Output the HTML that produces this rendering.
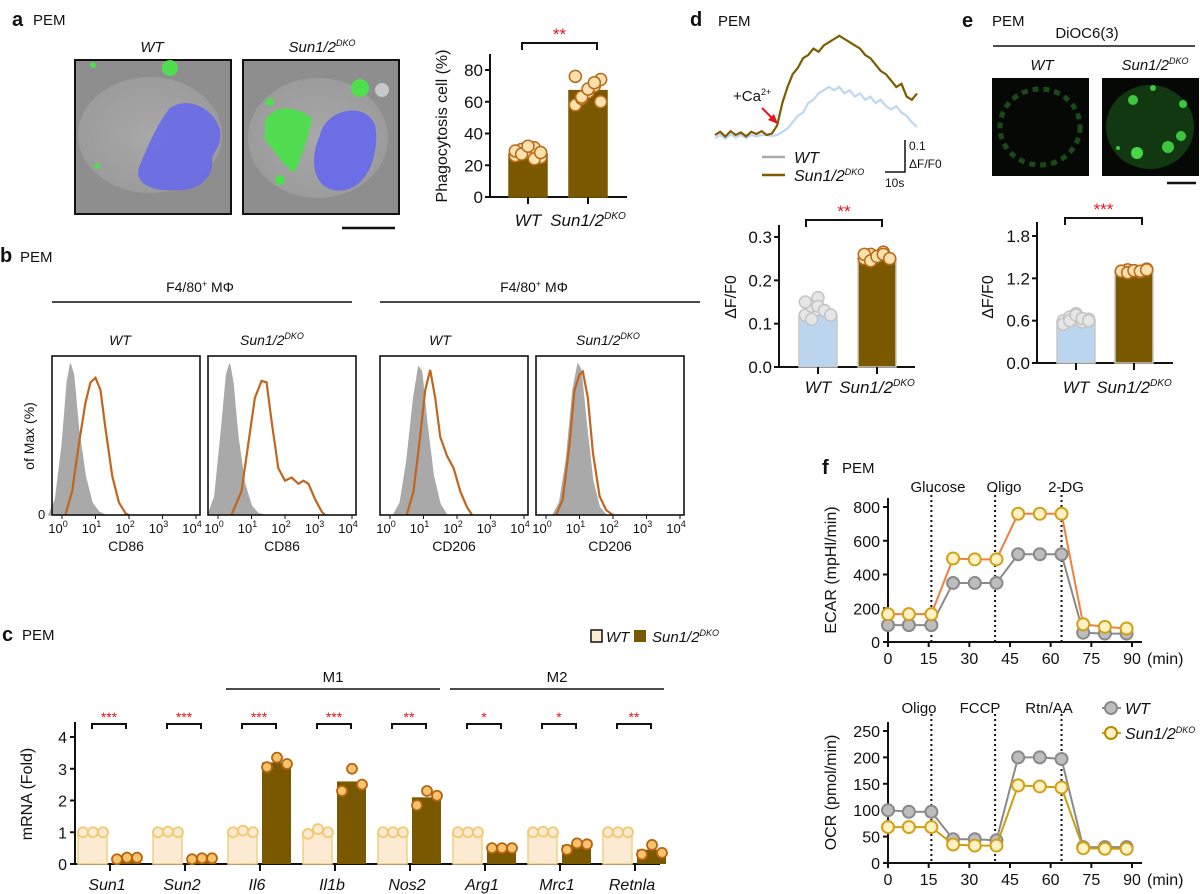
<!DOCTYPE html>
<html><head><meta charset="utf-8"><style>
html,body{margin:0;padding:0;background:#fff;}
svg{display:block;font-family:"Liberation Sans",sans-serif;}
text{fill:#111;}
.it{font-style:italic;}
</style></head><body>
<svg id="fig" width="1200" height="894" viewBox="0 0 1200 894" xmlns="http://www.w3.org/2000/svg">
<defs>
<radialGradient id="cellg" cx="0.5" cy="0.5" r="0.5"><stop offset="0" stop-color="#a8a8a8"/><stop offset="1" stop-color="#9c9c9c"/></radialGradient>
</defs>
<g font-size="15">
<text x="12" y="26" font-weight="bold" font-size="20">a</text><text x="33" y="25">PEM</text>
<text x="0" y="262" font-weight="bold" font-size="20">b</text><text x="20" y="262">PEM</text>
<text x="2" y="641" font-weight="bold" font-size="20">c</text><text x="22" y="640">PEM</text>
<text x="690" y="26" font-weight="bold" font-size="20">d</text><text x="718" y="26">PEM</text>
<text x="962" y="27" font-weight="bold" font-size="20">e</text><text x="992" y="26">PEM</text>
<text x="822" y="474" font-weight="bold" font-size="20">f</text><text x="842" y="473">PEM</text>
</g>
<g>
<text x="152" y="52" text-anchor="middle" class="it" font-size="15">WT</text>
<rect x="75" y="60" width="156" height="154" fill="#8e8e8e" stroke="#111" stroke-width="2"/>
<ellipse cx="150" cy="135" rx="72" ry="58" fill="url(#cellg)"/>
<path d="M140 165 C150 140 160 120 170 108 C190 95 215 110 220 130 C222 145 215 150 212 158 C215 175 200 192 175 190 C150 192 132 182 140 165Z" fill="#6c6ee6" opacity="0.95"/>
<circle cx="170" cy="68" r="8" fill="#4ede4e"/><circle cx="93" cy="65" r="3" fill="#4ede4e"/><circle cx="97" cy="166" r="3" fill="#4ede4e"/>
</g>
<g>
<text x="322" y="52" text-anchor="middle" class="it" font-size="15">Sun1/2<tspan font-size="9" dy="-6">DKO</tspan></text>
<rect x="243" y="60" width="156" height="154" fill="#8e8e8e" stroke="#111" stroke-width="2"/>
<ellipse cx="318" cy="138" rx="70" ry="60" fill="url(#cellg)"/>
<path d="M265 120 C280 100 300 110 312 118 C308 140 300 160 295 172 C285 170 275 150 265 140Z" fill="#52dc52"/>
<path d="M320 135 C325 110 365 100 375 125 C380 150 370 185 345 190 C320 195 305 170 320 135Z" fill="#6c6ee6"/>
<circle cx="360" cy="88" r="9" fill="#4ede4e"/><circle cx="382" cy="90" r="7" fill="#c8c8c8"/><circle cx="270" cy="102" r="4" fill="#4ede4e"/><circle cx="280" cy="180" r="5" fill="#4ede4e"/>
<line x1="342" y1="228" x2="395" y2="228" stroke="#111" stroke-width="2.5"/>
</g>
<g font-size="14">
<text x="200" y="292" text-anchor="middle">F4/80<tspan font-size="9" dy="-5">+</tspan><tspan dy="5"> MΦ</tspan></text>
<line x1="52" y1="302" x2="352" y2="302" stroke="#111" stroke-width="1.5"/>
<text x="534" y="292" text-anchor="middle">F4/80<tspan font-size="9" dy="-5">+</tspan><tspan dy="5"> MΦ</tspan></text>
<line x1="380" y1="302" x2="700" y2="302" stroke="#111" stroke-width="1.5"/>
<text x="120" y="345" text-anchor="middle" class="it">WT</text>
<text x="272" y="345" text-anchor="middle" class="it">Sun1/2<tspan font-size="9" dy="-6">DKO</tspan></text>
<text x="440" y="345" text-anchor="middle" class="it">WT</text>
<text x="608" y="345" text-anchor="middle" class="it">Sun1/2<tspan font-size="9" dy="-6">DKO</tspan></text>
<text transform="translate(34,436) rotate(-90)" text-anchor="middle">of Max (%)</text>
<text x="38" y="519" font-size="13">0</text>
</g>
<g id="flow"></g>
<g id="chartA"></g>
<g id="chartC"></g>
<g id="traceD"></g>
<g id="chartD"></g>
<g>
<text x="1087" y="38" text-anchor="middle" font-size="15">DiOC6(3)</text>
<line x1="993" y1="46" x2="1195" y2="46" stroke="#111" stroke-width="1.5"/>
<text x="1042" y="70" text-anchor="middle" class="it" font-size="15">WT</text>
<text x="1155" y="70" text-anchor="middle" class="it" font-size="15">Sun1/2<tspan font-size="9" dy="-6">DKO</tspan></text>
<rect x="992" y="78" width="97" height="98" fill="#050805"/>
<ellipse cx="1040" cy="127" rx="40" ry="38" fill="none" stroke="#1a4a1a" stroke-width="5" stroke-dasharray="6 5"/>
<rect x="1102" y="78" width="97" height="98" fill="#050805"/>
<ellipse cx="1150" cy="127" rx="44" ry="42" fill="#123812"/>
<circle cx="1133" cy="100" r="5" fill="#3ec63e"/><circle cx="1168" cy="147" r="6" fill="#3ec63e"/><circle cx="1137" cy="153" r="6" fill="#46d646"/><circle cx="1181" cy="136" r="5" fill="#3ec63e"/><circle cx="1183" cy="104" r="4" fill="#3ec63e"/><circle cx="1153" cy="88" r="3" fill="#3ec63e"/><circle cx="1118" cy="148" r="2" fill="#3ec63e"/>
<line x1="1167" y1="183" x2="1196" y2="183" stroke="#111" stroke-width="2.5"/>
</g>
<g id="chartE"></g>
<g id="chartF1"></g>
<g id="chartF2"></g>
</svg>
<script>
const aCats = ["WT","Sun1/2"];
const aMeans = [27, 67];
const aDotsWT = [26,30,28,31,25,29,27,32,24,28];
const aDotsKO = [58,62,66,70,74,76,63,68,72,60];
const aTicks = [0,20,40,60,80];
const cCats = ["Sun1","Sun2","Il6","Il1b","Nos2","Arg1","Mrc1","Retnla"];
const cWT = [1,1,1,1,1,1,1,1];
const cKO = [0.18,0.17,3.2,2.6,2.1,0.5,0.6,0.45];
const cDotsWT = [[1,1,1],[1,1.02,1],[1,1.05,1],[0.95,1.1,1],[1,1,1],[1,1,1],[1,1.02,1],[1,1,1]];
const cDotsKO = [[0.15,0.2,0.2],[0.15,0.18,0.18],[3.05,3.35,3.15],[2.3,3.0,2.5],[1.85,2.3,2.15],[0.5,0.5,0.5],[0.45,0.65,0.62],[0.3,0.6,0.35]];
const cSig = ["***","***","***","***","**","*","*","**"];
const cTicks = [0,1,2,3,4];
const dKO = [0,0.01,-0.005,0.012,0,0.008,-0.004,0.01,0.003,0.012,0.0,0.005,0.03,0.1,0.15,0.19,0.21,0.24,0.25,0.27,0.26,0.28,0.29,0.3,0.31,0.3,0.29,0.28,0.27,0.25,0.24,0.22,0.2,0.19,0.17,0.15,0.16,0.12,0.11,0.13];
const dWT = [-0.01,0,-0.012,0.002,-0.008,0,-0.01,0.0,-0.005,0,0.0,-0.003,0.0,0.01,0.02,0.04,0.06,0.07,0.1,0.11,0.13,0.14,0.15,0.14,0.15,0.13,0.14,0.12,0.13,0.11,0.12,0.1,0.11,0.09,0.08,0.09,0.07,0.06,0.04,0.025];
const dMeans = [0.12, 0.25];
const dDotsWT = [0.12,0.14,0.16,0.13,0.12,0.15,0.11,0.14,0.13,0.12];
const dDotsKO = [0.25,0.26,0.255,0.265,0.25,0.26,0.245,0.255,0.26,0.25];
const dTicks = [0.0,0.1,0.2,0.3];
const eMeans = [0.6, 1.3];
const eDotsWT = [0.6,0.65,0.7,0.58,0.62,0.55,0.6,0.68,0.63,0.6];
const eDotsKO = [1.3,1.32,1.31,1.29,1.33,1.3,1.28,1.31,1.3,1.32];
const eTicks = [0.0,0.6,1.2,1.8];
const fTime = [0,7.7,16,24,32,40,48,56,64,72,80,88];
const ecarWT = [100,100,100,350,350,350,520,520,520,55,50,50];
const ecarKO = [165,165,165,495,490,490,760,760,760,105,90,80];
const ocrWT = [100,97,97,45,45,43,200,200,197,30,30,30];
const ocrKO = [68,68,68,35,33,33,147,145,143,28,27,27];
const fXTicks = [0,15,30,45,60,75,90];
const ecarTicks = [0,200,400,600,800];
const ocrTicks = [0,50,100,150,200,250];
const ecarInject = [16,39.5,64];
const ocrInject = [16,39.5,64];
const bGray = [
 [[-0.4,0],[-0.2,0.1],[0,0.45],[0.15,0.85],[0.25,0.97],[0.35,0.9],[0.5,0.55],[0.7,0.25],[0.9,0.08],[1.1,0.02],[1.3,0]],
 [[-0.3,0],[-0.1,0.12],[0.1,0.55],[0.25,0.9],[0.35,0.97],[0.45,0.85],[0.6,0.5],[0.8,0.2],[1.0,0.06],[1.2,0.01],[1.4,0]],
 [[0.1,0],[0.3,0.08],[0.5,0.35],[0.7,0.75],[0.85,0.95],[0.95,0.92],[1.1,0.6],[1.3,0.25],[1.5,0.07],[1.7,0]],
 [[0.2,0],[0.4,0.08],[0.6,0.35],[0.8,0.8],[0.95,0.97],[1.05,0.93],[1.2,0.6],[1.4,0.22],[1.6,0.05],[1.8,0]]
];
const bOrange = [
 [[0.1,0],[0.3,0.15],[0.5,0.45],[0.7,0.72],[0.85,0.85],[1.0,0.88],[1.15,0.8],[1.3,0.55],[1.5,0.25],[1.7,0.08],[1.9,0.01],[2.0,0]],
 [[0.4,0],[0.7,0.15],[0.9,0.45],[1.1,0.75],[1.3,0.86],[1.45,0.85],[1.6,0.6],[1.8,0.3],[2.0,0.22],[2.2,0.24],[2.4,0.2],[2.55,0.22],[2.7,0.2],[2.9,0.1],[3.1,0.02],[3.2,0]],
 [[0.5,0],[0.7,0.15],[0.9,0.5],[1.05,0.8],[1.2,0.93],[1.35,0.75],[1.5,0.5],[1.7,0.38],[1.9,0.3],[2.1,0.15],[2.3,0.05],[2.45,0]],
 [[0.3,0],[0.5,0.1],[0.7,0.45],[0.85,0.8],[1.0,0.9],[1.1,0.92],[1.25,0.75],[1.4,0.4],[1.6,0.12],[1.8,0.03],[2.0,0]]
];
const bXLabels = ["CD86","CD86","CD206","CD206"];
const bExp = ["0","1","2","3","4"];

const NS="http://www.w3.org/2000/svg";
function mk(parent,tag,attrs,txt){const e=document.createElementNS(NS,tag);for(const k in attrs)e.setAttribute(k,attrs[k]);if(txt!==undefined)e.textContent=txt;parent.appendChild(e);return e;}
function lin(d0,d1,r0,r1){return v=>r0+(v-d0)/(d1-d0)*(r1-r0);}
const KO_BAR="#7a5800", DOT_FILL="#fbe1ad", DOT_STROKE="#b86a1a";

function barChart(g, o){
  const y=lin(o.ymin,o.ymax,o.y0,o.y1);
  let e=mk(g,'line',{x1:o.ax,y1:o.y0,x2:o.ax,y2:o.ytop,stroke:'#111','stroke-width':2});
  
  e=mk(g,'line',{x1:o.ax,y1:o.y0,x2:o.xend,y2:o.y0,stroke:'#111','stroke-width':2});
  
  o.ticks.forEach(t=>{mk(g,'line',{x1:o.ax-5,x2:o.ax,y1:y(t),y2:y(t),stroke:'#111','stroke-width':2});
    e=mk(g,'text',{x:o.ax-7,y:y(t)+6,'text-anchor':'end','font-size':o.fs||17},o.fmt?o.fmt(t):t);
    });
  e=mk(g,'text',{transform:`translate(${o.ylx},${o.ylY}) rotate(-90)`,'text-anchor':'middle','font-size':o.ylfs||16},o.ylabel);
  
  o.means.forEach((m,i)=>{
    const cx=o.cx[i];
    const b=mk(g,'rect',{x:cx-o.bw/2,y:y(m),width:o.bw,height:o.y0-y(m),fill:o.fills[i],stroke:o.strokes[i],'stroke-width':1.5});
    
    mk(g,'line',{x1:cx,x2:cx,y1:o.y0,y2:o.y0+7,stroke:'#111','stroke-width':2});
    o.dots[i].forEach((v,j)=>{const dx=((j%5)-2)*o.bw/6;
      const c=mk(g,'circle',{cx:cx+dx,cy:y(v),r:o.r||6,fill:o.dfill[i],stroke:o.dstroke[i],'stroke-width':1.5});
      });
  });
  let t=mk(g,'text',{x:o.cx[0],y:o.labY,'text-anchor':'middle','font-size':17,'class':'it'},'WT');
  
  t=mk(g,'text',{x:o.cx[1],y:o.labY,'text-anchor':'middle','font-size':17,'class':'it'},'Sun1/2');
  
  mk(t,'tspan',{'font-size':10,dy:-7},'DKO');
  const br=mk(g,'path',{d:`M${o.brx0} ${o.bry+7}V${o.bry}H${o.brx1}V${o.bry+7}`,fill:'none',stroke:'#111','stroke-width':2});
  
  const s=mk(g,'text',{x:(o.brx0+o.brx1)/2,y:o.bry-3,'text-anchor':'middle','font-size':17,style:'fill:#e8141b'},o.sig);
  
}

barChart(document.getElementById('chartA'),{ymin:0,ymax:80,y0:197,y1:70,ytop:54,ax:490,xend:627,ticks:aTicks,
  ylabel:'Phagocytosis cell (%)',ylx:447,ylY:126,means:aMeans,cx:[528,588],bw:38,
  fills:[KO_BAR,KO_BAR],strokes:[KO_BAR,KO_BAR],dots:[aDotsWT,aDotsKO],dfill:[DOT_FILL,DOT_FILL],dstroke:[DOT_STROKE,DOT_STROKE],
  labY:226,brx0:522,brx1:597,bry:43,sig:'**'});
barChart(document.getElementById('chartD'),{ymin:0,ymax:0.3,y0:367,y1:237,ytop:225,ax:779,xend:915,ticks:dTicks,fmt:t=>t.toFixed(1),
  ylabel:'ΔF/F0',ylx:736,ylY:297,means:dMeans,cx:[818,877],bw:38,
  fills:['#bcd5ee',KO_BAR],strokes:['#c9c9c9','#c9c9c9'],dots:[dDotsWT,dDotsKO],dfill:['#e6e6e6',DOT_FILL],dstroke:['#c4c4c4',DOT_STROKE],
  labY:393,brx0:806,brx1:882,bry:220,sig:'**'});
barChart(document.getElementById('chartE'),{ymin:0,ymax:1.8,y0:363,y1:236,ytop:222,ax:1037,xend:1173,ticks:eTicks,fmt:t=>t.toFixed(1),
  ylabel:'ΔF/F0',ylx:993,ylY:297,means:eMeans,cx:[1076,1134],bw:38,
  fills:['#bcd5ee',KO_BAR],strokes:['#c9c9c9','#c9c9c9'],dots:[eDotsWT,eDotsKO],dfill:['#e6e6e6',DOT_FILL],dstroke:['#c4c4c4',DOT_STROKE],
  labY:393,brx0:1065,brx1:1142,bry:218,sig:'***'});

(function(){
  const g=document.getElementById('traceD');
  const x=lin(0,dKO.length-1,715,917), y=lin(0,0.1,135,103);
  [[dWT,'#bdd8f0','trace-wt'],[dKO,'#7d5c00','trace-dko']].forEach(([arr,col,nm])=>{
    const p=mk(g,'polyline',{points:arr.map((v,i)=>x(i)+','+y(v)).join(' '),fill:'none',stroke:col,'stroke-width':2.2});
    });
  const ca=mk(g,'text',{x:733,y:101,'font-size':15},'+Ca');mk(ca,'tspan',{'font-size':9,dy:-6},'2+');
  mk(g,'line',{x1:762,y1:108,x2:775,y2:121,stroke:'#e8141b','stroke-width':2});
  mk(g,'path',{d:'M778 124 L768 120 L774 114Z',fill:'#e8141b'});
  let l=mk(g,'line',{x1:762,x2:785,y1:157,y2:157,stroke:'#a9a9a9','stroke-width':2.5});
  
  mk(g,'text',{x:794,y:163,'font-size':16,'class':'it'},'WT');
  l=mk(g,'line',{x1:762,x2:785,y1:175,y2:175,stroke:'#7d5c00','stroke-width':2.5});
  
  const t=mk(g,'text',{x:794,y:181,'font-size':16,'class':'it'},'Sun1/2');mk(t,'tspan',{'font-size':9,dy:-6},'DKO');
  mk(g,'path',{d:'M885 172H905V140',fill:'none',stroke:'#111','stroke-width':1.5});
  mk(g,'text',{x:909,y:150,'font-size':12},'0.1');
  mk(g,'text',{x:909,y:168,'font-size':12},'ΔF/F0');
  mk(g,'text',{x:885,y:187,'font-size':12},'10s');
})();

(function(){
  const g=document.getElementById('flow');
  const boxes=[52,208,380,536], bw=148, top=356, bot=515;
  boxes.forEach((bx,k)=>{
    const x=lin(0,4,bx+10,bx+bw-4), y=lin(0,1,bot,top+3);
    const gp=mk(g,'path',{d:'M'+bGray[k].map(p=>x(p[0])+' '+y(p[1])).join(' L')+'Z',fill:'#a9a9a9',stroke:'#a9a9a9'});
    
    const op=mk(g,'polyline',{points:bOrange[k].map(p=>x(p[0])+','+y(p[1])).join(' '),fill:'none',stroke:'#c0661e','stroke-width':2.2});
    
    const r=mk(g,'rect',{x:bx,y:top,width:bw,height:bot-top,fill:'none',stroke:'#111','stroke-width':1.6});
    
    bExp.forEach((ex,i)=>{mk(g,'line',{x1:x(i),x2:x(i),y1:bot,y2:bot+4,stroke:'#111'});
      const t=mk(g,'text',{x:x(i)-4,y:bot+18,'text-anchor':'middle','font-size':13},'10');
      mk(t,'tspan',{'font-size':9,dy:-6},ex);});
    const t=mk(g,'text',{x:bx+bw/2,y:bot+36,'text-anchor':'middle','font-size':14},bXLabels[k]);
    
  });
})();

(function(){
  const g=document.getElementById('chartC');
  const Y0=864, y=lin(0,4,Y0,737), ax=75, step=75, t0=110;
  const xc=i=>t0+i*step;
  mk(g,'line',{x1:ax,y1:Y0,x2:ax,y2:722,stroke:'#111','stroke-width':2});
  mk(g,'line',{x1:ax,y1:Y0,x2:660,y2:Y0,stroke:'#111','stroke-width':2});
  cTicks.forEach(t=>{mk(g,'line',{x1:ax-5,x2:ax,y1:y(t),y2:y(t),stroke:'#111','stroke-width':2});
    mk(g,'text',{x:ax-8,y:y(t)+6,'text-anchor':'end','font-size':16},t);});
  mk(g,'text',{transform:'translate(32,794) rotate(-90)','text-anchor':'middle','font-size':16},'mRNA (Fold)');
  cCats.forEach((c,i)=>{
    const cx=xc(i);
    let b=mk(g,'rect',{x:cx-32,y:y(cWT[i]),width:29,height:Y0-y(cWT[i]),fill:'#fcebd2',stroke:'#f2d083','stroke-width':1.5});
    
    b=mk(g,'rect',{x:cx+2,y:y(cKO[i]),width:29,height:Y0-y(cKO[i]),fill:KO_BAR});
    
    cDotsWT[i].forEach((v,j)=>{const d=mk(g,'circle',{cx:cx-27+j*10,cy:y(v),r:5,fill:'#fcebd2',stroke:'#f2c870','stroke-width':1.8});
      });
    cDotsKO[i].forEach((v,j)=>{const d=mk(g,'circle',{cx:cx+7+j*10,cy:y(v),r:5,fill:'#f6c46e',stroke:'#b8640f','stroke-width':1.8});
      });
    mk(g,'line',{x1:cx,x2:cx,y1:Y0,y2:Y0+7,stroke:'#111','stroke-width':2});
    let t=mk(g,'text',{x:cx-3,y:890,'text-anchor':'middle','font-size':16,'class':'it'},c);
    
    const br=mk(g,'path',{d:`M${cx-18} 729V724H${cx+16}V729`,fill:'none',stroke:'#111','stroke-width':2});
    
    t=mk(g,'text',{x:cx-1,y:722,'text-anchor':'middle','font-size':14,style:'fill:#e8141b'},cSig[i]);
    
  });
  mk(g,'line',{x1:226,x2:440,y1:689,y2:689,stroke:'#111','stroke-width':1.5});
  mk(g,'text',{x:333,y:682,'text-anchor':'middle','font-size':15},'M1');
  mk(g,'line',{x1:450,x2:664,y1:689,y2:689,stroke:'#111','stroke-width':1.5});
  mk(g,'text',{x:557,y:682,'text-anchor':'middle','font-size':15},'M2');
  let l=mk(g,'rect',{x:591,y:630,width:11,height:12,fill:'#fcebd2',stroke:'#111','stroke-width':1.5});
  
  mk(g,'text',{x:606,y:642,'font-size':15,'class':'it'},'WT');
  l=mk(g,'rect',{x:634,y:630,width:12,height:12,fill:KO_BAR});
  
  const t=mk(g,'text',{x:652,y:642,'font-size':15,'class':'it'},'Sun1/2');mk(t,'tspan',{'font-size':9,dy:-6},'DKO');
})();

function lineChart(g,o){
  const x=lin(0,90,888,1132), y=lin(0,o.ymax,o.y0,o.y1);
  mk(g,'line',{x1:888,y1:o.y0,x2:888,y2:o.ytop,stroke:'#111','stroke-width':2});
  mk(g,'line',{x1:888,y1:o.y0,x2:1142,y2:o.y0,stroke:'#111','stroke-width':2});
  o.ticks.forEach(t=>{mk(g,'line',{x1:883,x2:888,y1:y(t),y2:y(t),stroke:'#111','stroke-width':2});
    mk(g,'text',{x:880,y:y(t)+6,'text-anchor':'end','font-size':16},t);});
  fXTicks.forEach(t=>{mk(g,'line',{x1:x(t),x2:x(t),y1:o.y0,y2:o.y0+5,stroke:'#111','stroke-width':2});
    mk(g,'text',{x:x(t),y:o.y0+22,'text-anchor':'middle','font-size':16},t);});
  mk(g,'text',{x:1147,y:o.y0+22,'font-size':16},'(min)');
  mk(g,'text',{transform:`translate(${o.ylx},${(o.y0+o.ytop)/2}) rotate(-90)`,'text-anchor':'middle','font-size':16},o.ylabel);
  o.inject.forEach((t,i)=>{mk(g,'line',{x1:x(t),x2:x(t),y1:o.ytop-8,y2:o.y0,stroke:'#111','stroke-width':2,'stroke-dasharray':'2 3'});
    mk(g,'text',{x:o.annX[i],y:o.annY,'text-anchor':'middle','font-size':15},o.ann[i]);});
  [[o.wt,'#8a8a8a','#bdbdbd','#8a8a8a','series-wt'],[o.ko,o.koLine,'#fff2c4','#d4a017','series-dko']].forEach(([arr,lc,mf,ms,nm])=>{
    const p=mk(g,'polyline',{points:arr.map((v,i)=>x(fTime[i])+','+y(v)).join(' '),fill:'none',stroke:lc,'stroke-width':2});
    
    arr.forEach((v,i)=>{const c=mk(g,'circle',{cx:x(fTime[i]),cy:y(v),r:6,fill:mf,stroke:ms,'stroke-width':2});
      });
  });
}
lineChart(document.getElementById('chartF1'),{ymax:800,y0:642,y1:507,ytop:498,ticks:ecarTicks,ylabel:'ECAR (mpHl/min)',ylx:836,
  inject:ecarInject,ann:['Glucose','Oligo','2-DG'],annX:[938,1004,1066],annY:492,wt:ecarWT,ko:ecarKO,koLine:'#f0803a'});
lineChart(document.getElementById('chartF2'),{ymax:250,y0:863,y1:731,ytop:722,ticks:ocrTicks,ylabel:'OCR (pmol/min)',ylx:836,
  inject:ocrInject,ann:['Oligo','FCCP','Rtn/AA'],annX:[919,980,1049],annY:713,wt:ocrWT,ko:ocrKO,koLine:'#c9a010'});
(function(){
  const g=document.getElementById('chartF2');
  let l=mk(g,'g',{});
  mk(l,'line',{x1:1102,x2:1121,y1:708,y2:708,stroke:'#8a8a8a','stroke-width':2});
  mk(l,'circle',{cx:1111,cy:708,r:6,fill:'#bdbdbd',stroke:'#8a8a8a','stroke-width':2});
  mk(l,'text',{x:1125,y:714,'font-size':16,'class':'it'},'WT');
  l=mk(g,'g',{});
  mk(l,'line',{x1:1102,x2:1121,y1:733,y2:733,stroke:'#c9a010','stroke-width':2});
  mk(l,'circle',{cx:1111,cy:733,r:6,fill:'#fff2c4',stroke:'#b88a00','stroke-width':2});
  const t=mk(l,'text',{x:1125,y:739,'font-size':16,'class':'it'},'Sun1/2');mk(t,'tspan',{'font-size':9,dy:-6},'DKO');
})();
</script>
</body></html>
